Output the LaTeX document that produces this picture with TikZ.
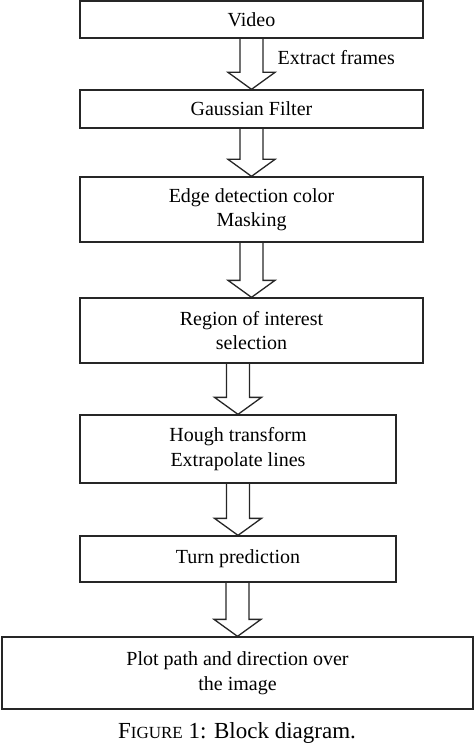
\documentclass[tikz,border=0pt]{standalone}
\usepackage{fontspec}
\setmainfont{Liberation Serif}
\usetikzlibrary{calc}

\begin{document}
\begin{tikzpicture}[x=1pt,y=-1pt,line width=1.3pt,draw=black!85,font=\fontsize{20}{24.5}\selectfont]
    \tikzstyle{block}=[draw=black!85,rectangle,inner sep=0pt,align=center]
    \tikzstyle{long block}=[block,minimum width=343pt];
    \tikzstyle{short block}=[block,minimum width=316pt];
    \tikzstyle{wide block}=[block,minimum width=471pt];
    \tikzstyle{annot}=[anchor=west,inner sep=0pt]

    \useasboundingbox (0,0) rectangle (474,751);

    % Draw the processing steps
    \node[long block,minimum height=37pt] (video) at (251.5,19.5) {Video};
    \node[long block,minimum height=38pt] (gauss) at (251.5,109) {Gaussian Filter};
    \node[long block,minimum height=65pt] (edge) at (251.5,209.5) {Edge detection color\\Masking};
    \node[long block,minimum height=65pt] (roi) at (251.5,330.5) {Region of interest\\selection};
    \node[short block,minimum height=68pt] (hough) at (238,449) {Hough transform\\Extrapolate lines};
    \node[short block,minimum height=46pt] (turn) at (238,559) {Turn prediction};
    \node[wide block,minimum height=72pt] (plot) at (237.5,673) {Plot path and direction over\\the image};

    % Connect every step with the next one by a hollow arrow
    % (the shaft stands above the middle of the next step)
    \foreach \source/\dest in {video/gauss,gauss/edge,edge/roi,roi/hough,hough/turn,turn/plot}
        \draw[line join=miter] ($(\source.south -| \dest.north)+(-11.5,0)$) -- ($(\dest.north)+(-11.5,-17)$)
            -- ($(\dest.north)+(-23.5,-17)$) -- (\dest.north) -- ($(\dest.north)+(23.5,-17)$)
            -- ($(\dest.north)+(11.5,-17)$) -- ($(\source.south -| \dest.north)+(11.5,0)$);

    % Annotate the first arrow
    \node[annot] (extract) at (277,58) {Extract frames};

    % Caption
    \node[inner sep=0pt,font=\fontsize{23}{27}\selectfont] (caption) at (237,733)
        {F{\fontsize{17}{20}\selectfont IGURE} 1: Block diagram.};
\end{tikzpicture}
\end{document}
